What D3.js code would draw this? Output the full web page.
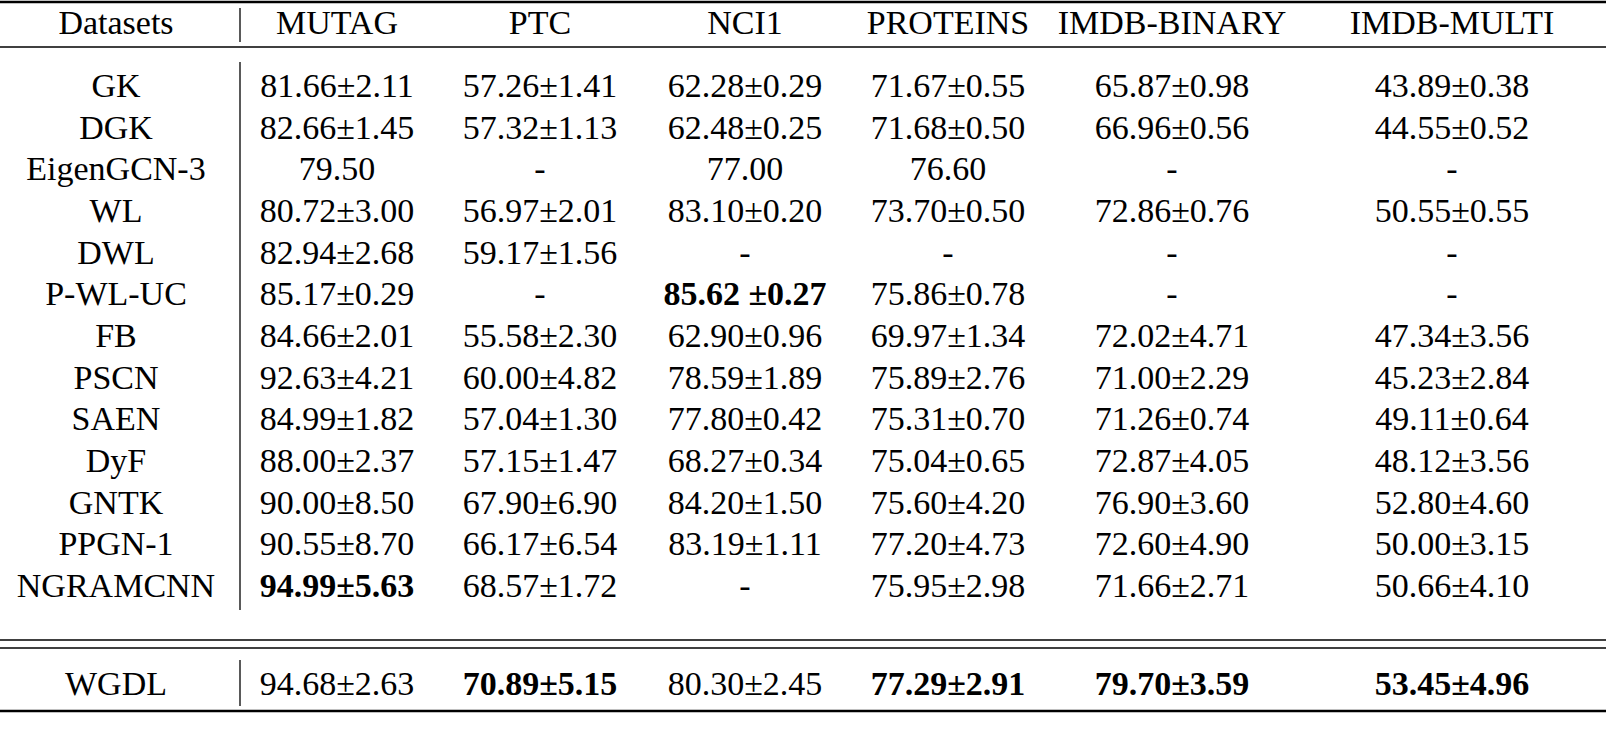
<!DOCTYPE html>
<html><head><meta charset="utf-8">
<script src="https://cdn.jsdelivr.net/npm/d3@7"></script>
<style>body{margin:0;background:#fff}</style>
</head><body>
<script>
const columns = ["Datasets","MUTAG","PTC","NCI1","PROTEINS","IMDB-BINARY","IMDB-MULTI"];
const methods = ["GK","DGK","EigenGCN-3","WL","DWL","P-WL-UC","FB","PSCN","SAEN","DyF","GNTK","PPGN-1","NGRAMCNN","WGDL"];
const values = [
  ["81.66±2.11","57.26±1.41","62.28±0.29","71.67±0.55","65.87±0.98","43.89±0.38"],
  ["82.66±1.45","57.32±1.13","62.48±0.25","71.68±0.50","66.96±0.56","44.55±0.52"],
  ["79.50","-","77.00","76.60","-","-"],
  ["80.72±3.00","56.97±2.01","83.10±0.20","73.70±0.50","72.86±0.76","50.55±0.55"],
  ["82.94±2.68","59.17±1.56","-","-","-","-"],
  ["85.17±0.29","-","85.62 ±0.27","75.86±0.78","-","-"],
  ["84.66±2.01","55.58±2.30","62.90±0.96","69.97±1.34","72.02±4.71","47.34±3.56"],
  ["92.63±4.21","60.00±4.82","78.59±1.89","75.89±2.76","71.00±2.29","45.23±2.84"],
  ["84.99±1.82","57.04±1.30","77.80±0.42","75.31±0.70","71.26±0.74","49.11±0.64"],
  ["88.00±2.37","57.15±1.47","68.27±0.34","75.04±0.65","72.87±4.05","48.12±3.56"],
  ["90.00±8.50","67.90±6.90","84.20±1.50","75.60±4.20","76.90±3.60","52.80±4.60"],
  ["90.55±8.70","66.17±6.54","83.19±1.11","77.20±4.73","72.60±4.90","50.00±3.15"],
  ["94.99±5.63","68.57±1.72","-","75.95±2.98","71.66±2.71","50.66±4.10"],
  ["94.68±2.63","70.89±5.15","80.30±2.45","77.29±2.91","79.70±3.59","53.45±4.96"]
];
const boldCells = [[5,2],[12,0],[13,1],[13,3],[13,4],[13,5]];

const W = 1606, H = 732;
const svg = d3.select("body").append("svg").attr("width", W).attr("height", H)
  .style("font-family", "'Liberation Serif', 'DejaVu Serif', serif");

const x = d3.scaleOrdinal().domain(columns).range([116, 337, 540, 745, 948, 1172, 1452]);
const y = d3.scalePoint().domain(methods.slice(0, 13)).range([85, 585]);
const yRow = m => m === "WGDL" ? 683 : y(m);
const fs = 34;

const line = (x1, y1, x2, y2, w) => svg.append("line").attr("x1", x1).attr("y1", y1)
  .attr("x2", x2).attr("y2", y2).attr("stroke", "#000").attr("stroke-width", w);

line(0, 2, W, 2, 2.5);
line(0, 47, W, 47, 1.3);
line(0, 640, W, 640, 1.3);
line(0, 648, W, 648, 1.3);
line(0, 711, W, 711, 2.5);
line(240, 8, 240, 42, 1.3);
line(240, 62, 240, 610, 1.3);
line(240, 660, 240, 706, 1.3);

svg.selectAll("text.h").data(columns).join("text").attr("class", "h")
  .attr("x", d => x(d)).attr("y", 22).attr("dy", "0.35em")
  .attr("text-anchor", "middle").attr("font-size", fs).text(d => d);

const isBold = (r, c) => boldCells.some(b => b[0] === r && b[1] === c);

methods.forEach((m, r) => {
  svg.append("text").attr("x", x(columns[0])).attr("y", yRow(m)).attr("dy", "0.35em")
    .attr("text-anchor", "middle").attr("font-size", fs).text(m);
  values[r].forEach((v, c) => {
    svg.append("text").attr("x", x(columns[c + 1])).attr("y", yRow(m)).attr("dy", "0.35em")
      .attr("text-anchor", "middle").attr("font-size", fs)
      .attr("font-weight", isBold(r, c) ? "bold" : "normal").text(v);
  });
});
</script>
</body></html>
